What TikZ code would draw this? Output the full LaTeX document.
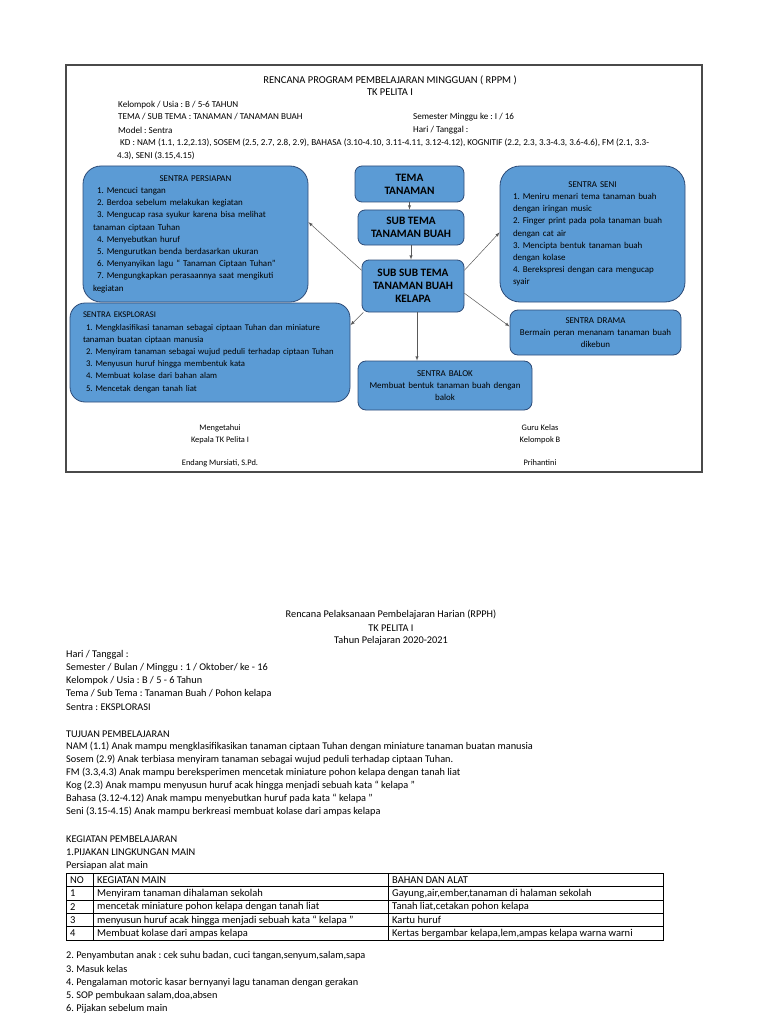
\documentclass[tikz,border=0pt]{standalone}
\usepackage{fontspec}
\setmainfont{Carlito}

\definecolor{boxblue}{HTML}{5B9BD5}
\definecolor{boxline}{HTML}{2E4C78}
\definecolor{arrowgray}{HTML}{595959}
\definecolor{framegray}{HTML}{4A4A4A}

\tikzset{
  sentra/.style={draw=boxline, fill=boxblue, line width=0.8pt, rounded corners=18pt,
    align=left, font=\fontsize{8.95}{12.2}\selectfont, inner ysep=0pt},
  temabox/.style={draw=boxline, fill=boxblue, line width=0.8pt, rounded corners=7pt,
    align=center, font=\bfseries\fontsize{11.3}{13}\selectfont, inner sep=0pt},
  hdr/.style={font=\fontsize{10.5}{12}\selectfont, inner sep=0pt},
  info/.style={font=\fontsize{9.1}{11}\selectfont, inner sep=0pt, anchor=west},
  ttd/.style={font=\fontsize{8.4}{10}\selectfont, inner sep=0pt},
  teks/.style={font=\fontsize{10.3}{12}\selectfont, inner sep=0pt, anchor=west},
  sel/.style={font=\fontsize{10.5}{12}\selectfont, inner sep=0pt, anchor=west},
  panah/.style={->, draw=arrowgray, line width=0.5pt},
}

\begin{document}
\frenchspacing
\begin{tikzpicture}[x=1pt,y=-1pt,>=latex]
  \useasboundingbox (0,0) rectangle (768,1024);
  % frame of the RPPM page
  \draw[framegray, line width=1.3pt] (66,65) rectangle (702,472);

  % header
  \node[hdr] (judul) at (390,80) {RENCANA PROGRAM PEMBELAJARAN MINGGUAN ( RPPM )};
  \node[hdr] (tk) at (390,92) {TK PELITA I};
  \node[info] (kelompok) at (118,105) {Kelompok / Usia : B / 5-6 TAHUN};
  \node[info] (tema-info) at (118,117) {TEMA / SUB TEMA : TANAMAN / TANAMAN BUAH};
  \node[info] (semester) at (413,117) {Semester Minggu ke : I / 16};
  \node[info] (model) at (118,130) {Model : Sentra};
  \node[info] (hari) at (413,130) {Hari / Tanggal :};
  \node[info] (kd) at (120,143) {KD : NAM (1.1, 1.2,2.13), SOSEM (2.5, 2.7, 2.8, 2.9), BAHASA (3.10-4.10, 3.11-4.11, 3.12-4.12), KOGNITIF (2.2, 2.3, 3.3-4.3, 3.6-4.6), FM (2.1, 3.3-};
  \node[info] (kd2) at (117,156) {4.3), SENI (3.15,4.15)};

  % sentra boxes
  \node[sentra, inner xsep=10pt, text width=205pt, minimum height=136pt] (persiapan) at (195.5,234)
    {\makebox[\linewidth]{SENTRA PERSIAPAN}\\
     \hspace{4pt}1. Mencuci tangan\\
     \hspace{4pt}2. Berdoa sebelum melakukan kegiatan\\
     \hspace{4pt}3. Mengucap rasa syukur karena bisa melihat\\
     tanaman ciptaan Tuhan\\
     \hspace{4pt}4. Menyebutkan huruf\\
     \hspace{4pt}5. Mengurutkan benda berdasarkan ukuran\\
     \hspace{4pt}6. Menyanyikan lagu “ Tanaman Ciptaan Tuhan”\\
     \hspace{4pt}7. Mengungkapkan perasaannya saat mengikuti\\
     kegiatan};
  \node[sentra, inner xsep=11pt, text width=163pt, minimum height=136pt, rounded corners=20pt] (seni) at (592.5,234)
    {\makebox[\linewidth]{SENTRA SENI}\\
     \hspace{2pt}1. Meniru menari tema tanaman buah\\
     \hspace{2pt}dengan iringan music\\
     \hspace{2pt}2. Finger print pada pola tanaman buah\\
     \hspace{2pt}dengan cat air\\
     \hspace{2pt}3. Mencipta bentuk tanaman buah\\
     \hspace{2pt}dengan kolase\\
     \hspace{2pt}4. Berekspresi dengan cara mengucap\\
     \hspace{2pt}syair};
  \node[sentra, font=\fontsize{8.7}{12.2}\selectfont, inner xsep=8pt, text width=264pt, minimum height=99pt, rounded corners=15pt] (eksplorasi) at (210,352.5)
    {\hspace{5pt}SENTRA EKSPLORASI\\
     \hspace{8pt}1. Mengklasifikasi tanaman sebagai ciptaan Tuhan dan miniature\\
     \hspace{5pt}tanaman buatan ciptaan manusia\\
     \hspace{8pt}2. Menyiram tanaman sebagai wujud peduli terhadap ciptaan Tuhan\\
     \hspace{8pt}3. Menyusun huruf hingga membentuk kata\\
     \hspace{8pt}4. Membuat kolase dari bahan alam\\
     \hspace{8pt}5. Mencetak dengan tanah liat};
  \node[sentra, align=center, inner xsep=6pt, text width=159pt, minimum height=45pt, rounded corners=8pt] (drama) at (595.5,332.5)
    {SENTRA DRAMA\\ Bermain peran menanam tanaman buah\\ dikebun};
  \node[sentra, align=center, inner xsep=6pt, text width=162pt, minimum height=49pt, rounded corners=8pt] (balok) at (445,385.5)
    {SENTRA BALOK\\ Membuat bentuk tanaman buah dengan\\ balok};

  % tema boxes
  \node[temabox, minimum width=109pt, minimum height=36pt] (tema) at (409.5,184) {TEMA\\ TANAMAN};
  \node[temabox, minimum width=106pt, minimum height=35pt] (subtema) at (411,227.5) {SUB TEMA\\ TANAMAN BUAH};
  \node[temabox, minimum width=102pt, minimum height=52pt] (subsub) at (413,286) {SUB SUB TEMA\\ TANAMAN BUAH\\ KELAPA};

  % arrows
  \draw[panah] (tema.south) -- (tema.south |- subtema.north);
  \draw[panah] (subtema.south) -- (subtema.south |- subsub.north);
  \draw[panah] (subsub.163) -- (persiapan.6);
  \draw[panah] (subsub.17) -- (seni.179);
  \draw[panah] (subsub.208) -- (eksplorasi.11);
  \draw[panah] (subsub.-8) -- (drama.176);
  \draw[panah] ([xshift=4pt]subsub.south) -- ([xshift=4pt]subsub.south |- balok.north);

  % signatures
  \node[ttd] (mengetahui) at (220,428) {Mengetahui};
  \node[ttd] (kepala) at (220,440) {Kepala TK Pelita I};
  \node[ttd] (endang) at (220,463) {Endang Mursiati, S.Pd.};
  \node[ttd] (guru) at (540,428) {Guru Kelas};
  \node[ttd] (kelb) at (540,440) {Kelompok B};
  \node[ttd] (prihantini) at (540,463) {Prihantini};

  % RPPH
  \foreach \t [count=\i from 0] in {Rencana Pelaksanaan Pembelajaran Harian (RPPH), TK PELITA I, Tahun Pelajaran 2020-2021}
    \node[teks, anchor=center] (rpph-\i) at (391,615+13*\i) {\t};
  \foreach \t [count=\i from 0] in {Hari / Tanggal :, Semester / Bulan / Minggu : 1 / Oktober/ ke - 16,
      Kelompok / Usia : B / 5 - 6 Tahun, Tema / Sub Tema : Tanaman Buah / Pohon kelapa, Sentra : EKSPLORASI}
    \node[teks] (ident-\i) at (66,655+13*\i) {\t};
  \foreach \t [count=\i from 0] in {TUJUAN PEMBELAJARAN,
      NAM (1.1) Anak mampu mengklasifikasikan tanaman ciptaan Tuhan dengan miniature tanaman buatan manusia,
      Sosem (2.9) Anak terbiasa menyiram tanaman sebagai wujud peduli terhadap ciptaan Tuhan.,
      {FM (3.3,4.3) Anak mampu bereksperimen mencetak miniature pohon kelapa dengan tanah liat},
      Kog (2.3) Anak mampu menyusun huruf acak hingga menjadi sebuah kata “ kelapa ”,
      Bahasa (3.12-4.12) Anak mampu menyebutkan huruf pada kata “ kelapa ”,
      Seni (3.15-4.15) Anak mampu berkreasi membuat kolase dari ampas kelapa}
    \node[teks] (tujuan-\i) at (66,734+13*\i) {\t};
  \foreach \t [count=\i from 0] in {KEGIATAN PEMBELAJARAN, 1.PIJAKAN LINGKUNGAN MAIN, Persiapan alat main}
    \node[teks] (kegiatan-\i) at (66,839+13.5*\i) {\t};

  % table
  \draw[line width=0.6pt] (66,873) rectangle (663,940);
  \foreach \k in {1,...,4}
    \draw[line width=0.6pt] (66,873+13.4*\k) -- (663,873+13.4*\k);
  \draw[line width=0.6pt] (93,873) -- (93,940);
  \draw[line width=0.6pt] (388,873) -- (388,940);
  \foreach \n/\main/\alat [count=\i from 0] in {
      NO/KEGIATAN MAIN/BAHAN DAN ALAT,
      1/Menyiram tanaman dihalaman sekolah/{Gayung,air,ember,tanaman di halaman sekolah},
      2/mencetak miniature pohon kelapa dengan tanah liat/{Tanah liat,cetakan pohon kelapa},
      3/menyusun huruf acak hingga menjadi sebuah kata “ kelapa ”/Kartu huruf,
      4/Membuat kolase dari ampas kelapa/{Kertas bergambar kelapa,lem,ampas kelapa warna warni}}{
    \node[sel] (no-\i) at (70,880+13.4*\i) {\n};
    \node[sel] (main-\i) at (97,880+13.4*\i) {\main};
    \node[sel] (alat-\i) at (392,880+13.4*\i) {\alat};
  }

  \foreach \t [count=\i from 0] in {{2. Penyambutan anak : cek suhu badan, cuci tangan,senyum,salam,sapa}, 3. Masuk kelas,
      4. Pengalaman motoric kasar bernyanyi lagu tanaman dengan gerakan, {5. SOP pembukaan salam,doa,absen}, 6. Pijakan sebelum main}
    \node[teks] (langkah-\i) at (66,956+13.2*\i) {\t};
\end{tikzpicture}
\end{document}
